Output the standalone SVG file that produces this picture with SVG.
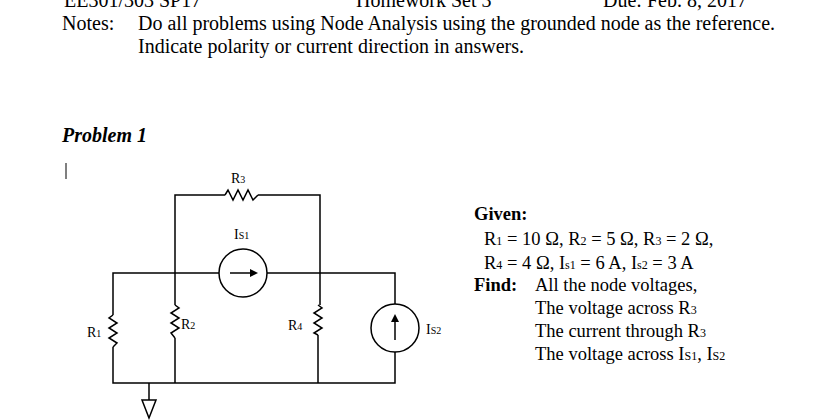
<svg xmlns="http://www.w3.org/2000/svg" width="838" height="420" viewBox="0 0 838 420">
<style>
text{font-family:"Liberation Serif",serif;fill:#000}
.h{font-size:20px}
.t{font-size:18.5px}
.s{font-size:14px}
.w{fill:none;stroke:#000;stroke-width:1.5}
</style>
<defs><marker id="a" markerWidth="8" markerHeight="8" refX="6" refY="4" orient="auto" markerUnits="userSpaceOnUse"><path d="M0,0L8,4L0,8z"/></marker></defs>
<rect width="838" height="420" fill="#fff"/>
<text class="h" x="64" y="7">EE301/303 SP17</text>
<text class="h" x="356" y="7">Homework Set 3</text>
<text class="h" x="603" y="7">Due:  Feb. 8, 2017</text>
<text class="h" x="62" y="30">Notes:</text>
<text class="h" x="138" y="30">Do all problems using Node Analysis using the grounded node as the reference.</text>
<text class="h" x="138" y="53">Indicate polarity or current direction in answers.</text>
<text class="h" x="62" y="142" font-weight="bold" font-style="italic">Problem 1</text>
<path d="M66,163V179" stroke="#000" stroke-width="1"/>
<g id="connectors" class="w">
<path d="M175,305V195H225M258,195H320V305"/>
<path d="M113,315V273H219M267,273H395V304"/>
<path d="M113,347V383H395V352M175,338V383M318,335V383"/>
<path d="M149,383V400"/>
</g>
<g id="R3"><path class="w" d="M225,195l3,-5l5,10l5,-10l5,10l5,-10l5,10l5,-5"/><text class="s" x="231" y="183">R<tspan font-size="10">3</tspan></text></g>
<g id="Is1"><circle class="w" cx="243" cy="273" r="24"/><path class="w" d="M230,273H256" marker-end="url(#a)"/><text class="s" x="234" y="239">I<tspan font-size="10">S1</tspan></text></g>
<g id="R1"><path class="w" d="M113,315l-4,3l8,5l-8,5l8,5l-8,5l8,5l-4,4"/><text class="s" x="87" y="337">R<tspan font-size="10">1</tspan></text></g>
<g id="R2"><path class="w" d="M175,305l4,3l-8,5l8,5l-8,5l8,5l-8,5l4,5"/><text class="s" x="181" y="329">R<tspan font-size="10">2</tspan></text></g>
<g id="R4"><path class="w" d="M318,305l4,3l-8,5l8,5l-8,5l8,5l-8,5l4,2"/><text class="s" x="288" y="330">R<tspan font-size="10">4</tspan></text></g>
<g id="Is2"><circle class="w" cx="395" cy="328" r="24"/><path class="w" d="M395,340V316" marker-end="url(#a)"/><text class="s" x="426" y="334">I<tspan font-size="10">S2</tspan></text></g>
<g id="ground"><path class="w" d="M142,400H156L149,418Z"/></g>
<g id="given">
<text class="t" x="474" y="220" font-weight="bold">Given:</text>
<text class="t" x="484" y="245">R<tspan font-size="12">1</tspan> = 10 Ω, R<tspan font-size="12">2</tspan> = 5 Ω, R<tspan font-size="12">3</tspan> = 2 Ω,</text>
<text class="t" x="484" y="269">R<tspan font-size="12">4</tspan> = 4 Ω, I<tspan font-size="12">s1</tspan> = 6 A, I<tspan font-size="12">s2</tspan> = 3 A</text>
<text class="t" x="474" y="291" font-weight="bold">Find:</text>
<text class="t" x="535" y="291">All the node voltages,</text>
<text class="t" x="535" y="314">The voltage across R<tspan font-size="12">3</tspan></text>
<text class="t" x="535" y="337">The current through R<tspan font-size="12">3</tspan></text>
<text class="t" x="535" y="360">The voltage across I<tspan font-size="12">S1</tspan>, I<tspan font-size="12">S2</tspan></text>
</g>
</svg>
